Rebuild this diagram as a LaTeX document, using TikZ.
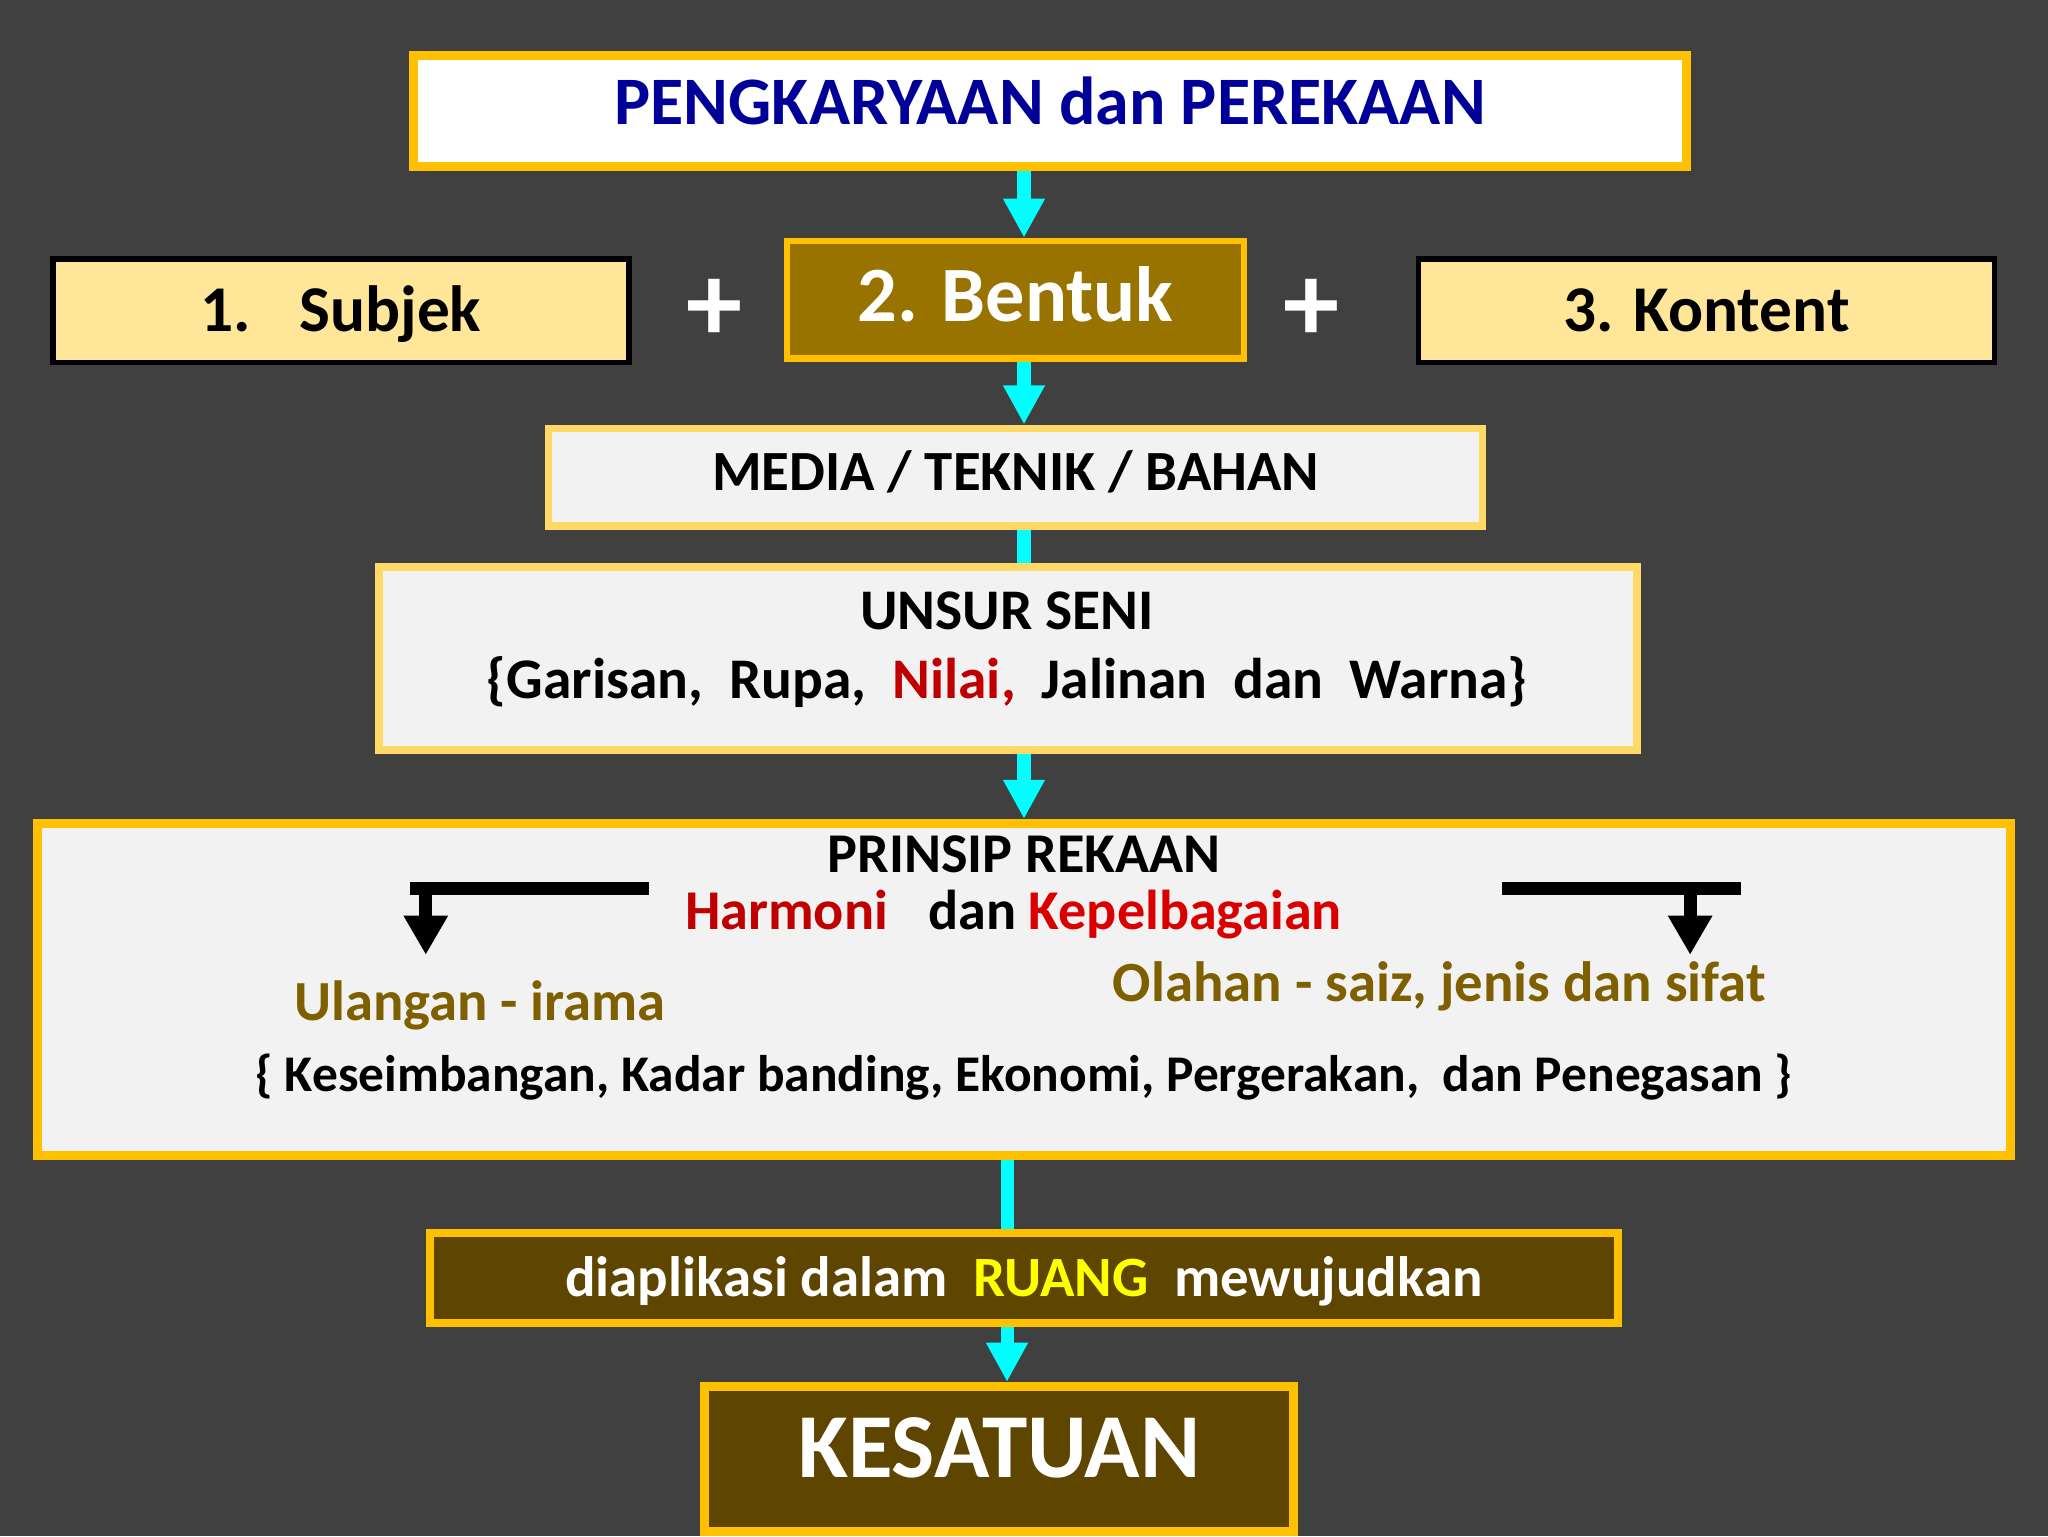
\documentclass[tikz,border=0pt]{standalone}
\usepackage{fontspec}
\setmainfont{Carlito}
\usetikzlibrary{arrows.meta}
\definecolor{bgcol}{HTML}{404040}
\definecolor{gold}{HTML}{FFC000}
\definecolor{lightgold}{HTML}{FFD966}
\definecolor{pale}{HTML}{FFE699}
\definecolor{bentukfill}{HTML}{997300}
\definecolor{panel}{HTML}{F2F2F2}
\definecolor{brown}{RGB}{94,69,0}
\definecolor{navy}{RGB}{0,0,153}
\definecolor{darkred}{HTML}{C00000}
\definecolor{brightred}{HTML}{DA0000}
\definecolor{olive}{HTML}{7F6000}
\definecolor{ruang}{HTML}{FFFF00}
\definecolor{aqua}{HTML}{00FFFF}
\newcommand{\fsz}[1]{\fontsize{#1}{#1}\selectfont\bfseries}

\begin{document}
\begin{tikzpicture}[x=1pt, y=-1pt,
	every node/.style = {shape=rectangle, inner sep=0pt, align=center},
	box/.style = {draw, line width=6pt, text depth=0pt},
	goldbox/.style = {box, draw=gold, line width=7pt},
	palebox/.style = {box, draw=black, line width=4.5pt, fill=pale, font=\fsz{50}, text height=31pt},
	panebox/.style = {box, draw=lightgold, fill=panel},
	darkbox/.style = {goldbox, fill=brown, text=white},
	plus/.style = {text=white, font=\fsz{86}},
	words/.style = {anchor=base, font=\fsz{#1}},
	flow/.style = {draw=aqua, line width=10pt, -{Triangle[length=30pt, width=30pt]}},
	link/.style = {draw=aqua, line width=10pt},
	bar/.style = {draw=black, line width=10pt},
	drop/.style = {bar, -{Triangle[length=30pt, width=32pt]}}]
	\useasboundingbox (0,0) rectangle (1568,1176);
	\fill[bgcol] (0,0) rectangle (1568,1176);
	\coordinate (axis) at (784,0);
	\coordinate (axisb) at (771,0);
	% top of the chart
	\node[goldbox, fill=white, minimum width=975pt, minimum height=85pt, text=navy, font=\fsz{52}, text height=32pt, text depth=11pt] (title) at (804,85) {PENGKARYAAN dan PEREKAAN};
	\node[palebox, minimum width=441pt, minimum height=79pt] (subjek) at (261,238) {1.\hspace{22pt} Subjek};
	\node[goldbox, line width=5pt, fill=bentukfill, text=white, minimum width=350pt, minimum height=90pt, font=\fsz{60}, text height=38pt, text depth=4pt] (bentuk) at (777.5,229.5) {2. Bentuk};
	\node[palebox, minimum width=441pt, minimum height=79pt] (kontent) at (1306.5,238) {3. Kontent};
	\node[plus] (plusa) at (547,238) {+};
	\node[plus] (plusb) at (1004,238) {+};
	% middle boxes
	\node[panebox, minimum width=715pt, minimum height=75pt, font=\fsz{43.5}, text height=27pt, text depth=7pt] (media) at (777.5,365.5) {MEDIA / TEKNIK / BAHAN};
	\node[panebox, minimum width=963pt, minimum height=140pt] (unsur) at (771.5,504) {};
	\node[words=44] (unsurhead) at (771,482) {UNSUR SENI};
	\node[words=44] (unsurlist) at (771,535) {\{Garisan,\ \ Rupa,\ \ \textcolor{darkred}{Nilai,}\ \ Jalinan\ \ dan\ \ Warna\}};
	\node[panebox, draw=gold, line width=7pt, minimum width=1511pt, minimum height=254pt] (prinsip) at (784,757.5) {};
	\node[words=43] (prinsiphead) at (784,668) {PRINSIP REKAAN};
	\node[words=43] (harmoni) at (776,712) {\textcolor{darkred}{Harmoni}\hspace{21pt} dan \textcolor{brightred}{Kepelbagaian}};
	\node[words=43.4, text=olive] (ulangan) at (367.5,781) {Ulangan - irama};
	\node[words=43.5, text=olive] (olahan) at (1102,767) {Olahan - saiz, jenis dan sifat};
	\node[words=39.4] (prinsiplist) at (784,836) {\{ Keseimbangan, Kadar banding, Ekonomi, Pergerakan,\ \ dan Penegasan \}};
	\coordinate (lbar) at (497,680);
	\coordinate (lend) at (314,680);
	\coordinate (ltip) at (326,731);
	\coordinate (rbar) at (1150,680);
	\coordinate (rend) at (1333,680);
	\coordinate (rtip) at (1294,731);
	\draw[bar] (lbar) -- (lend);
	\draw[drop] (ltip |- lbar) -- (ltip);
	\draw[bar] (rbar) -- (rend);
	\draw[drop] (rtip |- rbar) -- (rtip);
	% bottom boxes
	\node[darkbox, line width=6pt, minimum width=910pt, minimum height=69pt, font=\fsz{43.6}, text height=28pt] (aplikasi) at (784,978.5) {diaplikasi dalam\ \ \textcolor{ruang}{RUANG}\ \ mewujudkan};
	\node[darkbox, minimum width=451pt, minimum height=111pt, font=\fsz{70}, text height=44pt, text depth=16pt] (kesatuan) at (765,1117) {KESATUAN};
	% connectors
	\draw[flow] (title.south -| axis) -- (bentuk.north -| axis);
	\draw[flow] (bentuk.south -| axis) -- (media.north -| axis);
	\draw[link] (media.south -| axis) -- (unsur.north -| axis);
	\draw[flow] (unsur.south -| axis) -- (prinsip.north -| axis);
	\draw[link] (prinsip.south -| axisb) -- (aplikasi.north -| axisb);
	\draw[flow] (aplikasi.south -| axisb) -- (kesatuan.north -| axisb);
\end{tikzpicture}
\end{document}
